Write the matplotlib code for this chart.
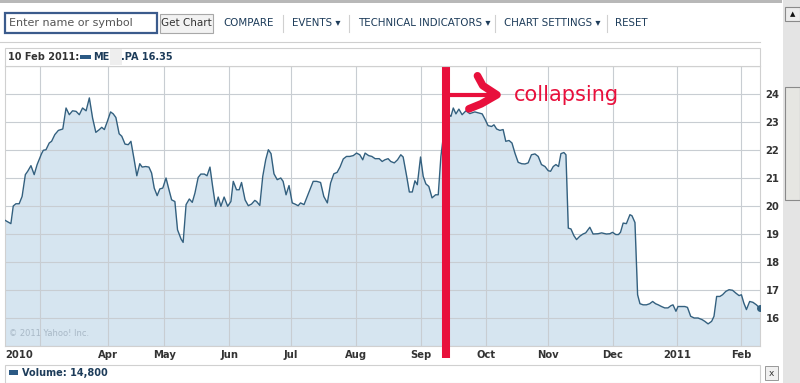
import matplotlib
matplotlib.use("Agg")
import matplotlib.pyplot as plt
from matplotlib.patches import Rectangle

# ---------------------------------------------------------------------------
# data (trading-day index, closing price)
# ---------------------------------------------------------------------------
day = [0.0, 2.0, 2.8, 3.7, 4.8, 5.8, 6.9, 7.7, 8.8, 9.9, 10.9, 12.4, 13.0, 13.9, 15.0,
       15.8, 16.9, 18.1, 19.6, 20.7, 21.8, 22.9, 24.1, 25.2, 26.3, 27.5, 28.6, 29.7, 30.8,
       32.0, 32.8, 33.7, 34.7, 35.8, 36.7, 37.6, 38.7, 39.6, 40.7, 41.8, 42.7, 43.8, 44.7,
       45.7, 46.5, 47.7, 48.8, 49.7, 50.6, 51.6, 52.5, 53.5, 54.6, 55.6, 56.5, 57.6, 58.5,
       59.7, 60.4, 61.4, 62.5, 63.5, 64.4, 65.5, 66.4, 67.6, 68.5, 69.5, 70.4, 71.4, 72.3,
       73.2, 74.3, 75.5, 76.6, 77.4, 78.5, 79.4, 80.2, 81.4, 82.5, 83.6, 84.7, 85.3, 86.4,
       87.4, 88.4, 89.3, 90.2, 91.2, 92.3, 93.5, 94.3, 95.3, 96.3, 97.4, 98.3, 99.4, 100.2,
       101.4, 102.5, 103.6, 104.5, 105.7, 107.0, 108.1, 109.3, 110.4, 111.5, 112.6, 113.6,
       114.7, 115.8, 116.9, 118.1, 119.2, 120.3, 121.3, 122.1, 123.3, 124.4, 125.5, 126.9,
       127.9, 128.8, 129.9, 130.8, 132.0, 133.1, 134.2, 135.0, 136.2, 137.1, 138.1, 139.0,
       139.8, 140.9, 141.8, 142.7, 143.7, 144.8, 146.0, 146.9, 147.8, 149.0, 150.2, 151.2,
       152.0, 152.9, 153.9, 155.0, 156.3, 157.6, 159.3, 160.7, 161.8, 162.7, 163.8, 165.0,
       165.8, 166.7, 167.8, 168.9, 169.8, 170.9, 171.9, 172.9, 174.0, 175.2, 176.3, 177.4,
       178.5, 179.7, 180.8, 181.9, 183.1, 184.2, 185.0, 185.9, 186.8, 187.7, 188.5, 189.5,
       190.2, 191.0, 191.9, 192.9, 193.8, 194.9, 196.0, 196.9, 198.3, 199.4, 201.1, 202.3,
       203.9, 205.1, 206.0, 207.1, 208.0, 208.7, 209.6, 210.7, 211.9, 212.6, 213.6, 214.5,
       215.3, 216.4, 217.5, 218.6, 219.6, 220.6, 221.5, 222.6, 223.7, 224.8, 225.8, 226.5,
       227.5, 228.2, 229.4, 230.5, 231.4, 232.5, 233.7, 235.0, 236.4, 237.3, 238.4, 239.6,
       240.4, 241.3, 242.4, 243.3, 244.4, 245.5, 246.7, 247.8, 248.9, 249.7, 250.5, 251.4,
       252.5, 253.6, 254.8, 255.9]
price = [19.49, 19.37, 20.00, 20.08, 20.08, 20.34, 21.12, 21.24, 21.44, 21.12, 21.48, 21.87,
         21.99, 22.01, 22.25, 22.31, 22.55, 22.70, 22.75, 23.50, 23.26, 23.40, 23.38, 23.26,
         23.50, 23.40, 23.86, 23.14, 22.63, 22.73, 22.81, 22.73, 23.02, 23.36, 23.29, 23.16,
         22.58, 22.49, 22.21, 22.19, 22.31, 21.65, 21.08, 21.51, 21.39, 21.41, 21.39, 21.18,
         20.64, 20.37, 20.61, 20.64, 21.00, 20.58, 20.22, 20.16, 19.15, 18.82, 18.70, 20.05,
         20.25, 20.13, 20.46, 21.02, 21.14, 21.14, 21.08, 21.39, 20.70, 19.99, 20.32, 19.99,
         20.32, 19.99, 20.16, 20.88, 20.58, 20.58, 20.84, 20.22, 20.01, 20.07, 20.20, 20.16,
         20.02, 21.06, 21.65, 22.01, 21.87, 21.15, 20.94, 21.00, 20.88, 20.40, 20.73, 20.11,
         20.07, 20.01, 20.11, 20.05, 20.34, 20.64, 20.88, 20.88, 20.84, 20.34, 20.11, 20.82,
         21.15, 21.20, 21.39, 21.68, 21.77, 21.77, 21.80, 21.89, 21.83, 21.65, 21.89, 21.80,
         21.77, 21.69, 21.69, 21.59, 21.65, 21.69, 21.59, 21.54, 21.65, 21.83, 21.75, 21.06,
         20.50, 20.50, 20.90, 20.76, 21.75, 21.06, 20.79, 20.70, 20.29, 20.40, 20.40, 21.77,
         22.80, 23.30, 23.20, 23.50, 23.29, 23.46, 23.26, 23.40, 23.30, 23.36, 23.32, 23.29,
         23.11, 22.87, 22.84, 22.90, 22.75, 22.70, 22.73, 22.31, 22.34, 22.25, 21.89, 21.56,
         21.51, 21.50, 21.54, 21.83, 21.86, 21.77, 21.48, 21.41, 21.26, 21.24, 21.41, 21.48,
         21.41, 21.87, 21.91, 21.83, 19.21, 19.18, 18.94, 18.80, 18.92, 19.00, 19.04, 19.24,
         19.00, 19.01, 19.04, 19.00, 19.01, 19.06, 18.98, 18.98, 19.06, 19.39, 19.37, 19.69,
         19.65, 19.41, 16.83, 16.51, 16.47, 16.47, 16.51, 16.59, 16.51, 16.47, 16.41, 16.36,
         16.36, 16.44, 16.47, 16.24, 16.41, 16.41, 16.41, 16.38, 16.06, 16.00, 16.00, 15.94,
         15.88, 15.79, 15.88, 16.06, 16.77, 16.77, 16.83, 16.95, 17.01, 16.99, 16.89, 16.80,
         16.83, 16.54, 16.30, 16.59, 16.56, 16.47, 16.35]

month_pos = [0, 12, 35, 54, 76, 97, 119, 141, 163, 184, 206, 228, 249.5]
month_lbl = ["2010", "", "Apr", "May", "Jun", "Jul", "Aug", "Sep", "Oct", "Nov", "Dec", "2011", "Feb"]
y_ticks = [16, 17, 18, 19, 20, 21, 22, 23, 24]
split_day = 149.5   # where the red marker was drawn

LINE = "#33607f"
FILL = "#d6e5f0"
GRID = "#c8cdd2"
RED = "#e8103c"
NAVY = "#1d3c5a"

W, H = 800, 383
fig = plt.figure(figsize=(W / 100, H / 100), dpi=100)
fig.patch.set_facecolor("white")


def fx(x):
    return x / W


def fy(y):
    return 1 - y / H


# ---------------------------------------------------------------------------
# page chrome (toolbar, header, scrollbar)
# ---------------------------------------------------------------------------
fig.add_artist(Rectangle((0, fy(3)), fx(782), 3 / H, facecolor="#b8b8b8", edgecolor="none"))
fig.add_artist(Rectangle((fx(5), fy(33)), fx(152), 20 / H, facecolor="white",
                         edgecolor="#3b5b8c", linewidth=1.6))
fig.text(fx(9), fy(23), "Enter name or symbol", fontsize=8, color="#555555", va="center")
fig.add_artist(Rectangle((fx(160), fy(33)), fx(53), 19 / H, facecolor="#f2f2f2",
                         edgecolor="#a8a8a8", linewidth=0.8))
fig.text(fx(186.5), fy(23.5), "Get Chart", fontsize=7.5, color="#333333", va="center", ha="center")

menu = [("COMPARE", 223), ("EVENTS \u25be", 292), ("TECHNICAL INDICATORS \u25be", 358),
        ("CHART SETTINGS \u25be", 504), ("RESET", 615)]
for label, x0 in menu:
    fig.text(fx(x0), fy(23.5), label, fontsize=7.4, color=NAVY, va="center")
for xs in [283, 349, 495, 607]:
    fig.add_artist(plt.Line2D([fx(xs), fx(xs)], [fy(15), fy(32)], color="#d0d0d0", lw=0.8))
fig.add_artist(plt.Line2D([0, fx(760)], [fy(42), fy(42)], color="#cfcfcf", lw=0.8))

# header box above chart
fig.add_artist(Rectangle((fx(5), fy(66)), fx(755), 18 / H, facecolor="white",
                         edgecolor="#d0d0d0", linewidth=0.8))
fig.text(fx(8), fy(57), "10 Feb 2011:", fontsize=7, fontweight="bold", color="#333333", va="center")
fig.add_artist(Rectangle((fx(80), fy(58.5)), fx(11), 3 / H, facecolor="#2c5a85", edgecolor="none"))
fig.text(fx(93), fy(57), "ME", fontsize=7, fontweight="bold", color=NAVY, va="center")
fig.add_artist(Rectangle((fx(110), fy(65)), fx(12), 16 / H, facecolor="#eeeeee", edgecolor="none"))
fig.text(fx(121), fy(57), ".PA 16.35", fontsize=7, fontweight="bold", color=NAVY, va="center")

# volume panel
fig.add_artist(Rectangle((fx(5), 0), fx(755), 18 / H, facecolor="white",
                         edgecolor="#d0d0d0", linewidth=0.8))
fig.add_artist(Rectangle((fx(9), fy(375)), fx(9), 5 / H, facecolor="#2c5a85", edgecolor="none"))
fig.text(fx(22), fy(373), "Volume: 14,800", fontsize=7, fontweight="bold", color=NAVY, va="center")
fig.add_artist(Rectangle((fx(765), fy(380)), fx(13), 14 / H, facecolor="#f0f0f0",
                         edgecolor="#999999", linewidth=0.7))
fig.text(fx(771.5), fy(373), "x", fontsize=6.5, color="#333333", va="center", ha="center")

# scrollbar
fig.add_artist(Rectangle((fx(783), 0), fx(17), 1, facecolor="#e4e4e4", edgecolor="none",
                         hatch="....", linewidth=0))
fig.add_artist(Rectangle((fx(785), fy(21)), fx(15), 14 / H, facecolor="#ececec",
                         edgecolor="#8a8a8a", linewidth=0.8))
fig.text(fx(792.5), fy(14), "\u25b2", fontsize=5, color="#111111", ha="center", va="center")
fig.add_artist(Rectangle((fx(785), fy(200)), fx(15), 113 / H, facecolor="#e6e6e2",
                         edgecolor="#8a8a8a", linewidth=0.8))

# ---------------------------------------------------------------------------
# price chart
# ---------------------------------------------------------------------------
ax = fig.add_axes([fx(5), fy(346), fx(755), 280 / H])
ax.set_facecolor("white")
ax.fill_between(day, price, 15, color=FILL, linewidth=0, zorder=1)
ax.plot(day, price, color=LINE, linewidth=1.0, zorder=3)
ax.plot(day[-1], price[-1], "o", color=LINE, markersize=4, zorder=4)

ax.set_xlim(0, 256)
ax.set_ylim(15, 25)
ax.set_yticks(y_ticks)
ax.yaxis.tick_right()
ax.set_xticks(month_pos)
ax.set_xticklabels(month_lbl)
ax.tick_params(length=0, labelsize=7.2, labelcolor="#333333")
ax.tick_params(axis="y", pad=4)
ax.tick_params(axis="x", pad=3)
for lbl in ax.get_xticklabels() + ax.get_yticklabels():
    lbl.set_fontweight("bold")
ax.get_xticklabels()[0].set_horizontalalignment("left")

for y in range(15, 26):
    ax.axhline(y, color=GRID, linewidth=0.8, zorder=2)
for x in month_pos[1:]:
    ax.axvline(x, color=GRID, linewidth=0.8, zorder=2)
for spine in ax.spines.values():
    spine.set_color("#d0d0d0")
    spine.set_linewidth(0.8)

ax.text(1.5, 15.35, "\u00a9 2011 Yahoo! Inc.", fontsize=6, color="#a8b8c6", zorder=5)

# ---------------------------------------------------------------------------
# hand-drawn red annotation
# ---------------------------------------------------------------------------
ax.plot([split_day, split_day], [25.05, 14.58], color=RED, linewidth=5.8,
        solid_capstyle="butt", clip_on=False, zorder=6)
ax.plot([split_day, 166.5], [23.97, 23.97], color=RED, linewidth=3, zorder=6,
        solid_capstyle="butt")
ax.plot([160.2, 162.0, 166.8, 161.5, 157.3], [24.65, 24.3, 23.97, 23.65, 23.47],
        color=RED, linewidth=5.5, solid_capstyle="round", solid_joinstyle="round", zorder=6)
ax.text(172.5, 23.97, "collapsing", fontsize=15, color=RED, va="center", zorder=6)

fig.savefig("out.png", dpi=100, facecolor="white")
